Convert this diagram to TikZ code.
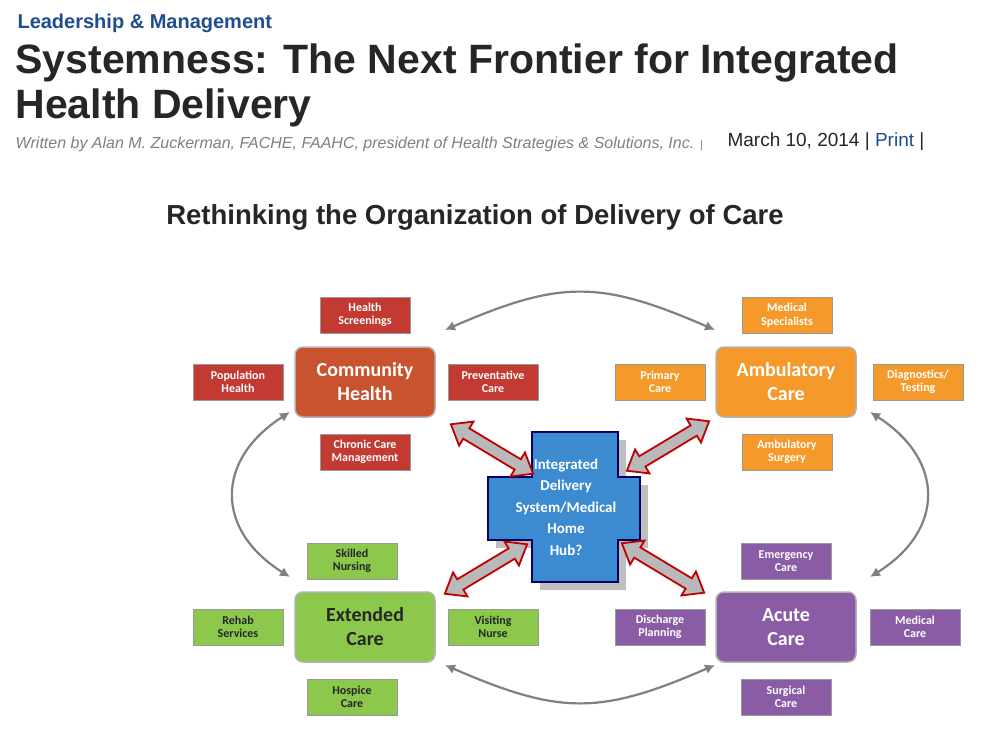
\documentclass[tikz,border=0pt]{standalone}
\usepackage{fontspec}
\setmainfont{Liberation Sans}
\newfontfamily\calfont{Carlito}
\usetikzlibrary{arrows.meta}
\definecolor{hdblue}{HTML}{1F4E8C}
\definecolor{redbox}{HTML}{C23A32}
\definecolor{redmain}{HTML}{C8532E}
\definecolor{orbox}{HTML}{F59A2A}
\definecolor{grbox}{HTML}{8CC84B}
\definecolor{pubox}{HTML}{8A5CA6}
\definecolor{crossblue}{HTML}{3C8AD0}
\tikzset{
 x=1pt,y=-1pt,
 small/.style={minimum width=90pt,minimum height=36pt,inner sep=1pt,align=center,font=\calfont\bfseries\fontsize{12}{13.5}\selectfont,text=white,draw=black!40},
 big/.style={minimum width=140pt,minimum height=70pt,rounded corners=8pt,align=center,font=\calfont\bfseries\fontsize{20}{24}\selectfont,draw=black!30,line width=1.5pt},
 curv/.style={draw=gray,line width=2.2pt,{Latex[length=10pt,width=10pt]}-{Latex[length=10pt,width=10pt]}},
 fat/.style={draw=red!75!black,line width=1.8pt,fill=gray!55,line join=miter}
}
\newcommand{\fatarrow}[3]{% center x,y, angle
 \draw[fat,shift={(#1,#2)},rotate=#3] (-48,0) -- (-30,-14) -- (-30,-6) -- (30,-6) -- (30,-14) -- (48,0) -- (30,14) -- (30,6) -- (-30,6) -- (-30,14) -- cycle;}
\begin{document}
\begin{tikzpicture}
\useasboundingbox[fill=white] (0,0) rectangle (1008,746);
\node[anchor=west,text=hdblue,font=\bfseries\fontsize{20}{22}\selectfont] (h1) at (14,23) {Leadership \& Management};
\node[anchor=north west,align=left,text=black!85,font=\bfseries\fontsize{41}{45}\selectfont] (h2) at (12,40) {Systemness: The Next Frontier for Integrated\\Health Delivery};
\node[anchor=west,text=gray,font=\itshape\fontsize{16}{18}\selectfont] (h3) at (12,144) {Written by Alan M. Zuckerman, FACHE, FAAHC, president of Health Strategies \& Solutions, Inc. {\upshape\fontsize{11}{12}\selectfont|}};
\node[anchor=west,text=black!85,font=\fontsize{19}{21}\selectfont] (h4) at (724,142) {March 10, 2014 | \textcolor{hdblue}{Print} |};
\node[font=\bfseries\fontsize{27.5}{30}\selectfont,text=black!85] (t) at (475,217) {Rethinking the Organization of Delivery of Care};

% curved arrows
\draw[curv] (445,330) .. controls (560,280) and (600,280) .. (715,330);
\draw[curv] (290,412) .. controls (215,460) and (215,530) .. (290,577);
\draw[curv] (870,412) .. controls (945,460) and (945,530) .. (870,577);
\draw[curv] (445,665) .. controls (560,715) and (600,715) .. (715,665);

% cross
\fill[black!25] (540,440) rectangle (626,590);
\fill[black!25] (496,485) rectangle (648,548);
\draw[fill=crossblue,draw=blue!40!black,line width=1.5pt] (532,432) -- (618,432) -- (618,477) -- (640,477) -- (640,540) -- (618,540) -- (618,582) -- (532,582) -- (532,540) -- (488,540) -- (488,477) -- (532,477) -- cycle;
\node[align=center,text=white,font=\calfont\bfseries\fontsize{15}{21.5}\selectfont] (hub) at (566,507) {Integrated\\Delivery\\System/Medical\\Home\\Hub?};

\fatarrow{492}{449}{-31}
\fatarrow{668}{446}{31}
\fatarrow{486}{569}{31}
\fatarrow{663}{568}{-31}

% big nodes
\node[big,fill=redmain,text=white] (ch) at (365,382) {Community\\Health};
\node[big,fill=orbox,text=white] (ac) at (786,382) {Ambulatory\\Care};
\node[big,fill=grbox,text=black!85] (ec) at (365,627) {Extended\\Care};
\node[big,fill=pubox,text=white] (acu) at (786,627) {Acute\\Care};

% small red
\node[small,fill=redbox] (hs) at (365,315) {Health\\Screenings};
\node[small,fill=redbox] (ph) at (238,382) {Population\\Health};
\node[small,fill=redbox] (pc) at (493,382) {Preventative\\Care};
\node[small,fill=redbox] (ccm) at (365,452) {Chronic Care\\Management};
% orange
\node[small,fill=orbox] (ms) at (787,315) {Medical\\Specialists};
\node[small,fill=orbox] (prc) at (660,382) {Primary\\Care};
\node[small,fill=orbox] (dt) at (918,382) {Diagnostics/\\Testing};
\node[small,fill=orbox] (as) at (787,452) {Ambulatory\\Surgery};
% green
\node[small,fill=grbox,text=black!85] (sn) at (352,561) {Skilled\\Nursing};
\node[small,fill=grbox,text=black!85] (rs) at (238,627) {Rehab\\Services};
\node[small,fill=grbox,text=black!85] (vn) at (493,627) {Visiting\\Nurse};
\node[small,fill=grbox,text=black!85] (hc) at (352,697) {Hospice\\Care};
% purple
\node[small,fill=pubox] (em) at (786,561) {Emergency\\Care};
\node[small,fill=pubox] (dp) at (660,627) {Discharge\\Planning};
\node[small,fill=pubox] (mc) at (915,627) {Medical\\Care};
\node[small,fill=pubox] (sc) at (786,697) {Surgical\\Care};
\end{tikzpicture}
\end{document}
